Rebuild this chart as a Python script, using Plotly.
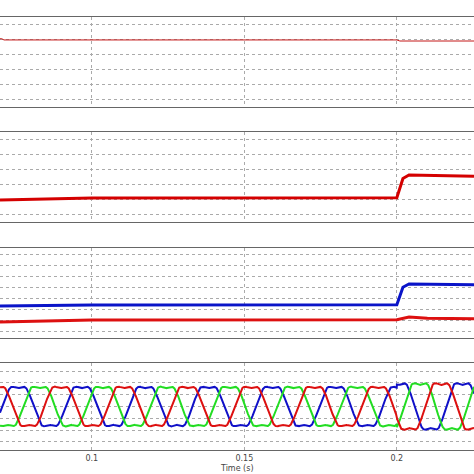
import numpy as np
import plotly.graph_objects as go

# x-range of the cropped view (s)
x_range = [0.0699, 0.2253]
x_ticks = [0.1, 0.15, 0.2]
x_tick_labels = ["0.1", "0.15", "0.2"]

# Panel 1: thin red trace (breakpoints)
p1_t = [0.0699, 0.0705, 0.0712, 0.2000, 0.2010, 0.2253]
p1_v = [4.55, 4.55, 4.47, 4.47, 4.40, 4.40]

# Panel 2: thick red trace
p2_t = [0.0699, 0.0800, 0.1000, 0.2000, 0.2020, 0.2040, 0.2100, 0.2253]
p2_v = [1.47, 1.50, 1.60, 1.62, 2.90, 3.13, 3.10, 3.05]

# Panel 3: blue and red traces
p3_t = [0.0699, 0.0800, 0.1000, 0.2000, 0.2020, 0.2040, 0.2100, 0.2253]
p3_blue = [2.96, 2.98, 3.05, 3.08, 4.70, 5.00, 4.98, 4.92]
p3_red = [1.48, 1.55, 1.67, 1.70, 1.85, 1.94, 1.82, 1.78]

# Panel 4: three-phase currents; one normalised cycle (every 15 deg)
cycle_shape = [0, 0.38, 0.72, 0.95, 1.0, 0.95, 0.91, 0.95, 1.0, 0.95, 0.72, 0.38,
               0, -0.38, -0.72, -0.95, -1.0, -0.95, -0.91, -0.95, -1.0, -0.95, -0.72, -0.38, 0]
period = 0.0208
blue_fall = 0.1018          # downward zero crossing of blue
amp_before, amp_after = 1.7, 2.0
step_time = 0.2
phase_colors = {"blue": "#1010c8", "green": "#22dd22", "red": "#dd1010"}
phase_lag = {"blue": 0.0, "green": 1 / 3, "red": 2 / 3}

t = np.linspace(x_range[0], x_range[1], 3000)
deg = np.arange(len(cycle_shape)) * 15

fig = go.Figure()
fig.add_trace(go.Scatter(x=p1_t, y=p1_v, mode="lines", line=dict(color="#c41818", width=1), xaxis="x", yaxis="y"))
fig.add_trace(go.Scatter(x=p2_t, y=p2_v, mode="lines", line=dict(color="#d40000", width=3), xaxis="x2", yaxis="y2"))
fig.add_trace(go.Scatter(x=p3_t, y=p3_blue, mode="lines", line=dict(color="#0a14c8", width=3), xaxis="x3", yaxis="y3"))
fig.add_trace(go.Scatter(x=p3_t, y=p3_red, mode="lines", line=dict(color="#dd1010", width=3), xaxis="x3", yaxis="y3"))
amp = np.where(t < step_time, amp_before, amp_after)
for name in ["blue", "green", "red"]:
    ph = ((t - blue_fall) / period - phase_lag[name]) * 360 + 180
    v = amp * np.interp(np.mod(ph, 360), deg, cycle_shape)
    fig.add_trace(go.Scatter(x=t, y=v, mode="lines", line=dict(color=phase_colors[name], width=2), xaxis="x4", yaxis="y4"))

H = 474
panels = [(17, 107, [0, 6], [0.5 + i for i in range(6)]),
          (132, 222, [0, 6], [0.5 + i for i in range(6)]),
          (248, 338, [0, 8.33], [0.6 + i * 1.02 for i in range(8)]),
          (363, 450, [-3.7, 3.7], [-3, -2, -1, 0, 1, 2, 3])]
layout = dict(width=474, height=474, autosize=False,
              margin=dict(l=0, r=0, t=0, b=0, pad=0, autoexpand=False),
              showlegend=False, paper_bgcolor="white", plot_bgcolor="white")
for i, (top, bot, yr, yt) in enumerate(panels):
    s = "" if i == 0 else str(i + 1)
    layout["xaxis" + s] = dict(range=x_range, domain=[0, 1], anchor="y" + s, tickvals=x_ticks,
                               ticktext=x_tick_labels, showticklabels=(i == 3), ticks="", automargin=False,
                               showgrid=True, gridcolor="#aaa", griddash="dot", gridwidth=1,
                               showline=True, mirror=True, linecolor="#666", linewidth=1.2,
                               zeroline=False, tickfont=dict(size=8, color="#444", family="DejaVu Sans"))
    layout["yaxis" + s] = dict(range=yr, domain=[1 - bot / H, 1 - top / H], anchor="x" + s, automargin=False,
                               tickvals=yt, showticklabels=False, ticks="", showgrid=True,
                               gridcolor="#aaa", griddash="dot", gridwidth=1, zeroline=False, showline=False)
fig.update_layout(**layout)
fig.add_annotation(text="Time (s)", x=0.5, y=-1 / H, xref="paper", yref="paper", yanchor="bottom",
                   showarrow=False, font=dict(size=8, color="#444", family="DejaVu Sans"))
fig.write_html("out.html", config={"responsive": False, "displayModeBar": False},
               post_script="document.body.style.margin='0';document.body.style.overflow='hidden';")
